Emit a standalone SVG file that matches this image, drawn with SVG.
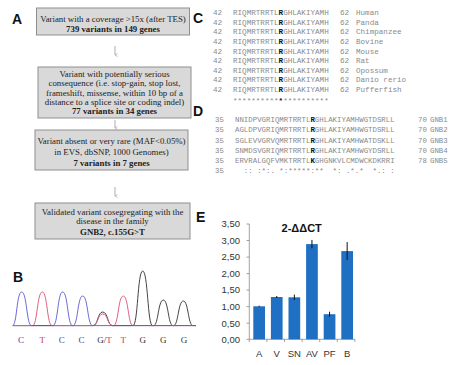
<svg xmlns="http://www.w3.org/2000/svg" width="474" height="365" viewBox="0 0 474 365">
<defs>
<style>
.lbl{font-family:"Liberation Sans",Arial,sans-serif;font-weight:bold;font-size:14px;fill:#111}
.box{fill:#d9d9d9;stroke:#8f8f8f;stroke-width:1}
.bt{font-family:"Liberation Serif","Times New Roman",serif;font-size:8.8px;fill:#222;text-anchor:middle}
.bb{font-weight:bold}
.arr{stroke:#999;stroke-width:0.8;fill:none}
.seqc{font-family:"Liberation Mono","Courier New",monospace;font-size:7.6px;fill:#8a8a8a}
.seqd{font-family:"Liberation Mono","Courier New",monospace;font-size:7.4px;fill:#8a8a8a}
.hl{font-weight:bold;fill:#111}
.nt{font-family:"Liberation Serif","Times New Roman",serif;font-size:9px;text-anchor:middle}
.tb{fill:none;stroke:#5a5ad0;stroke-width:1}
.tr{fill:none;stroke:#e06080;stroke-width:1}
.tk{fill:none;stroke:#444;stroke-width:1}
.ax{stroke:#8a8a8a;stroke-width:0.8;fill:none}
.ytx{font-family:"Liberation Sans",Arial,sans-serif;font-size:9.5px;fill:#333;text-anchor:end}
.xtx{font-family:"Liberation Sans",Arial,sans-serif;font-size:9.5px;fill:#333;text-anchor:middle}
.bar{fill:#1f6fc3}
.err{stroke:#111;stroke-width:1}
</style>
<marker id="ah" markerWidth="4" markerHeight="4" refX="2" refY="3" orient="auto" markerUnits="userSpaceOnUse">
<path d="M0.5,0.5 L2,3 L3.5,0.5" fill="none" stroke="#999" stroke-width="0.6"/>
</marker>
</defs>

<!-- Panel A -->
<g id="panelA">
<text class="lbl" x="12" y="24">A</text>
<g id="box1">
<rect class="box" x="36.5" y="8" width="153" height="27"/>
<text class="bt" x="113" y="22">Variant with a coverage &gt;15x (after TES)</text>
<text class="bt bb" x="113" y="32">739 variants in 149 genes</text>
</g>
<g id="box2">
<rect class="box" x="38" y="67" width="153" height="51"/>
<text class="bt" x="114.5" y="76.5">Variant with potentially serious</text>
<text class="bt" x="114.5" y="86">consequence (i.e. stop-gain, stop lost,</text>
<text class="bt" x="114.5" y="95.5">frameshift, missense, within 10 bp of a</text>
<text class="bt" x="114.5" y="104.5">distance to a splice site or coding indel)</text>
<text class="bt bb" x="114.5" y="114">77 variants in 34 genes</text>
</g>
<g id="box3">
<rect class="box" x="35" y="130" width="153" height="40"/>
<text class="bt" x="111.5" y="143.5">Variant absent or very rare (MAF&lt;0.05%)</text>
<text class="bt" x="111.5" y="155">in  EVS, dbSNP, 1000 Genomes)</text>
<text class="bt bb" x="111.5" y="166">7 variants in 7 genes</text>
</g>
<g id="box4">
<rect class="box" x="35" y="203" width="155" height="36"/>
<text class="bt" x="112.5" y="214.5">Validated variant cosegregating with the</text>
<text class="bt" x="112.5" y="223.5">disease in the family</text>
<text class="bt bb" x="112.5" y="234.5">GNB2, c.155G&gt;T</text>
</g>
<g id="connectors">
<line class="arr" x1="115" y1="46" x2="115" y2="55" marker-end="url(#ah)"/>
<line class="arr" x1="115" y1="120" x2="115" y2="128" marker-end="url(#ah)"/>
<line class="arr" x1="115" y1="187" x2="115" y2="196" marker-end="url(#ah)"/>
</g>
</g>

<!-- Panel B -->
<g id="panelB">
<text class="lbl" x="13" y="281.5">B</text>
<path class="tk" d="M13,325.6 H93 M93,325.6 C98,325.6 97.5,312 102.7,312 C108,312 107.5,325.6 112.5,325.6 H133 C138,325.6 137.5,271 142.7,271 C148,271 147.5,325.6 152.5,325.6 H153.5 C158.5,325.6 158,300 163.3,300 C168.5,300 168,325.6 173,325.6 H173.5 C178.5,325.6 178,301 183.3,301 C188.5,301 188,325.6 193,325.6 H196"/>
<path class="tr" d="M13,325.6 H32.5 C37.5,325.6 37,292 42.3,292 C47.5,292 47,325.6 52,325.6 H93 C98,325.6 97.5,314 102.7,314 C108,314 107.5,325.6 112.5,325.6 H113.5 C118.5,325.6 118,296 123.3,296 C128.5,296 128,325.6 133,325.6 H196"/>
<path class="tb" d="M12.5,325.6 C17,325.6 16.5,292 21.7,292 C27,292 26.5,325.6 31.5,325.6 H53 C58,325.6 57.5,292 62.7,292 C68,292 67.5,325.6 72.5,325.6 H73 C78,325.6 77.5,296 82.7,296 C88,296 87.5,325.6 92.5,325.6 H196" opacity="0.9"/>
<text class="nt" x="21" y="343" fill="#3c3ca8">C</text>
<text class="nt" x="42.3" y="343" fill="#c8385a">T</text>
<text class="nt" x="61.7" y="343" fill="#3c3ca8">C</text>
<text class="nt" x="81.5" y="343" fill="#3c3ca8">C</text>
<text class="nt" x="104.5" y="343" fill="#333"><tspan>G/</tspan><tspan fill="#c8385a">T</tspan></text>
<text class="nt" x="123.3" y="343" fill="#c8385a">T</text>
<text class="nt" x="142.7" y="343" fill="#333">G</text>
<text class="nt" x="163.3" y="343" fill="#333">G</text>
<text class="nt" x="184" y="343" fill="#333">G</text>
</g>

<!-- Panel C -->
<g id="panelC">
<text class="lbl" x="193" y="22.5">C</text>
<g class="seqc">
<text x="213" y="15.2">42</text><text x="233" y="15.2">RIQMRTRRTL<tspan class="hl">R</tspan>GHLAKIYAMH</text><text x="340" y="15.2">62</text><text x="356" y="15.2">Human</text>
<text x="213" y="24.8">42</text><text x="233" y="24.8">RIQMRTRRTL<tspan class="hl">R</tspan>GHLAKIYAMH</text><text x="340" y="24.8">62</text><text x="356" y="24.8">Panda</text>
<text x="213" y="34.4">42</text><text x="233" y="34.4">RIQMRTRRTL<tspan class="hl">R</tspan>GHLAKIYAMH</text><text x="340" y="34.4">62</text><text x="356" y="34.4">Chimpanzee</text>
<text x="213" y="44">42</text><text x="233" y="44">RIQMRTRRTL<tspan class="hl">R</tspan>GHLAKIYAMH</text><text x="340" y="44">62</text><text x="356" y="44">Bovine</text>
<text x="213" y="53.6">42</text><text x="233" y="53.6">RIQMRTRRTL<tspan class="hl">R</tspan>GHLAKIYAMH</text><text x="340" y="53.6">62</text><text x="356" y="53.6">Mouse</text>
<text x="213" y="63.2">42</text><text x="233" y="63.2">RIQMRTRRTL<tspan class="hl">R</tspan>GHLAKIYAMH</text><text x="340" y="63.2">62</text><text x="356" y="63.2">Rat</text>
<text x="213" y="72.8">42</text><text x="233" y="72.8">RIQMRTRRTL<tspan class="hl">R</tspan>GHLAKIYAMH</text><text x="340" y="72.8">62</text><text x="356" y="72.8">Opossum</text>
<text x="213" y="82.4">42</text><text x="233" y="82.4">RIQMRTRRTL<tspan class="hl">R</tspan>GHLAKIYAMH</text><text x="340" y="82.4">62</text><text x="356" y="82.4">Danio rerio</text>
<text x="213" y="92">42</text><text x="233" y="92">RIQMRTRRTL<tspan class="hl">R</tspan>GHLAKIYAMH</text><text x="340" y="92">62</text><text x="356" y="92">Pufferfish</text>
<text x="233" y="103">**********<tspan class="hl">*</tspan>**********</text>
</g>
</g>

<!-- Panel D -->
<g id="panelD">
<text class="lbl" x="193" y="116">D</text>
<g class="seqd">
<text x="215" y="122.2">35</text><text x="235" y="122.2">NNIDPVGRIQMRTRRTL<tspan class="hl">R</tspan>GHLAKIYAMHWGTDSRLL</text><text x="418" y="122.2">70</text><text x="430" y="122.2">GNB1</text>
<text x="215" y="132.4">35</text><text x="235" y="132.4">AGLDPVGRIQMRTRRTL<tspan class="hl">R</tspan>GHLAKIYAMHWGTDSRLL</text><text x="418" y="132.4">70</text><text x="430" y="132.4">GNB2</text>
<text x="215" y="142.6">35</text><text x="235" y="142.6">SGLEVVGRVQMRTRRTL<tspan class="hl">R</tspan>GHLAKIYAMHWATDSKLL</text><text x="418" y="142.6">70</text><text x="430" y="142.6">GNB3</text>
<text x="215" y="152.8">35</text><text x="235" y="152.8">SNMDSVGRIQMRTRRTL<tspan class="hl">R</tspan>GHLAKIYAMHWGYDSRLL</text><text x="418" y="152.8">70</text><text x="430" y="152.8">GNB4</text>
<text x="215" y="163">35</text><text x="235" y="163">ERVRALGQFVMKTRRTL<tspan class="hl">K</tspan>GHGNKVLCMDWCKDKRRI</text><text x="418" y="163">78</text><text x="430" y="163">GNB5</text>
<text x="215" y="173.2">35</text><text x="235" y="173.2" xml:space="preserve">  :: :*:. *:*****:**  *: .*.*  *.: :</text>
</g>
</g>

<!-- Panel E -->
<g id="panelE">
<text class="lbl" x="196" y="222">E</text>
<text x="301.7" y="232" font-family="'Liberation Sans',Arial,sans-serif" font-weight="bold" font-size="11" fill="#111" text-anchor="middle">2-ΔΔCT</text>
<path class="ax" d="M249.3,224 V339.3 H355 M246.5,224 H249.3 M246.5,240.5 H249.3 M246.5,257.1 H249.3 M246.5,273.6 H249.3 M246.5,290.1 H249.3 M246.5,306.6 H249.3 M246.5,323.2 H249.3 M246.5,339.3 H249.3 M249.3,339.3 V342 M266.9,339.3 V342 M284.5,339.3 V342 M302.1,339.3 V342 M319.7,339.3 V342 M337.3,339.3 V342 M354.9,339.3 V342"/>
<text class="ytx" x="240" y="227.3">3,50</text>
<text class="ytx" x="240" y="243.8">3,00</text>
<text class="ytx" x="240" y="260.4">2,50</text>
<text class="ytx" x="240" y="276.9">2,00</text>
<text class="ytx" x="240" y="293.4">1,50</text>
<text class="ytx" x="240" y="309.9">1,00</text>
<text class="ytx" x="240" y="326.5">0,50</text>
<text class="ytx" x="240" y="343">0,00</text>
<rect class="bar" x="253.3" y="306.3" width="11.7" height="33"/>
<rect class="bar" x="270.9" y="297" width="11.7" height="42.3"/>
<rect class="bar" x="288.5" y="297.3" width="11.7" height="42"/>
<rect class="bar" x="306.1" y="244.1" width="11.7" height="95.2"/>
<rect class="bar" x="323.7" y="314.2" width="11.7" height="25.1"/>
<rect class="bar" x="341.3" y="251.1" width="11.7" height="88.2"/>
<path class="err" d="M259.15,305.7 V306.9 M276.75,296 V298 M294.35,294.6 V300 M311.95,239.9 V248.3 M329.55,311.7 V316.7 M347.15,242.1 V260.1"/>
<text class="xtx" x="259.15" y="357">A</text>
<text class="xtx" x="276.75" y="357">V</text>
<text class="xtx" x="294.35" y="357">SN</text>
<text class="xtx" x="311.95" y="357">AV</text>
<text class="xtx" x="329.55" y="357">PF</text>
<text class="xtx" x="347.15" y="357">B</text>
</g>
</svg>
